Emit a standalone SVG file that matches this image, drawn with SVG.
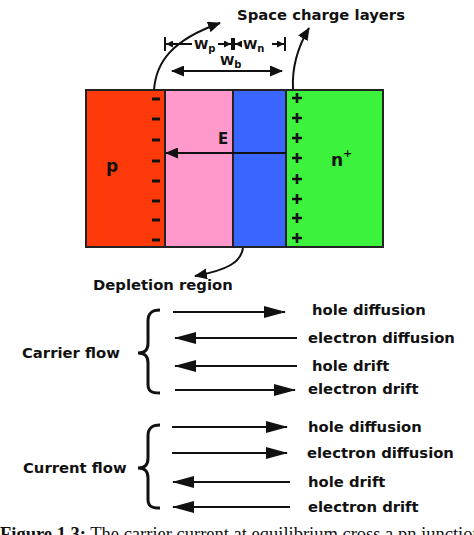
<svg xmlns="http://www.w3.org/2000/svg" width="474" height="535" viewBox="0 0 474 535">
<style>
.t{font-family:"DejaVu Sans",Verdana,sans-serif;font-weight:bold;font-size:14.8px;fill:#111}
.ln{stroke:#111;stroke-width:2;fill:none}
.bd{stroke:#222;stroke-width:2}
.mk{fill:#111}
</style>
<defs>
<marker id="ah" markerUnits="userSpaceOnUse" viewBox="0 0 22 12" refX="21" refY="6" markerWidth="22" markerHeight="12" orient="auto"><path d="M0,0 L22,6 L0,12 z" fill="#111"/></marker>
<marker id="am" markerUnits="userSpaceOnUse" viewBox="0 0 13 11" refX="12" refY="5.5" markerWidth="13" markerHeight="11" orient="auto"><path d="M0,0 L13,5.5 L0,11 z" fill="#111"/></marker>
<marker id="amS" markerUnits="userSpaceOnUse" viewBox="0 0 13 11" refX="1" refY="5.5" markerWidth="13" markerHeight="11" orient="auto"><path d="M13,0 L0,5.5 L13,11 z" fill="#111"/></marker>
<marker id="as" markerUnits="userSpaceOnUse" viewBox="0 0 7 7" refX="7" refY="3.5" markerWidth="7" markerHeight="7" orient="auto"><path d="M0,0 L7,3.5 L0,7 z" fill="#111"/></marker>
</defs>

<g id="junction">
  <rect x="86" y="90" width="79" height="157" fill="#FF3A0A"/>
  <rect x="165" y="90" width="68" height="157" fill="#FF99CC"/>
  <rect x="233" y="90" width="53" height="157" fill="#3A66FF"/>
  <rect x="286" y="90" width="97" height="157" fill="#3CF23C"/>
  <rect x="86" y="90" width="297" height="157" fill="none" stroke="#222" stroke-width="2"/>
  <line class="bd" x1="165" y1="90" x2="165" y2="247"/>
  <line class="bd" x1="233" y1="90" x2="233" y2="247"/>
  <line class="bd" x1="286" y1="90" x2="286" y2="247"/>
</g>

<g id="charges-neg">
  <rect class="mk" x="152" y="97.5" width="8" height="3"/>
  <rect class="mk" x="152" y="117.5" width="8" height="3"/>
  <rect class="mk" x="152" y="138.5" width="8" height="3"/>
  <rect class="mk" x="152" y="159.5" width="8" height="3"/>
  <rect class="mk" x="152" y="179.5" width="8" height="3"/>
  <rect class="mk" x="152" y="199.5" width="8" height="3"/>
  <rect class="mk" x="152" y="218.5" width="8" height="3"/>
  <rect class="mk" x="152" y="238.5" width="8" height="3"/>
</g>
<g id="charges-pos" stroke="#111" stroke-width="2.6">
  <path d="M292,98h10M297,93v10"/>
  <path d="M292,118h10M297,113v10"/>
  <path d="M292,138h10M297,133v10"/>
  <path d="M292,158h10M297,153v10"/>
  <path d="M292,179h10M297,174v10"/>
  <path d="M292,199h10M297,194v10"/>
  <path d="M292,218h10M297,213v10"/>
  <path d="M292,238h10M297,233v10"/>
</g>

<g id="labels-regions">
  <text class="t" x="106" y="172" style="font-size:17px">p</text>
  <text class="t" x="331" y="166" style="font-size:17px">n</text>
  <text class="t" x="343" y="157" style="font-size:11px">+</text>
  <text class="t" x="218" y="144" style="font-size:15px">E</text>
</g>

<g id="connectors">
  <line class="ln" x1="286" y1="153" x2="166" y2="153" marker-end="url(#am)"/>
  <path class="ln" d="M154,90 C156,62 172,40 220,23" marker-end="url(#am)"/>
  <path class="ln" d="M293,89 C292,70 296,50 309,28" marker-end="url(#am)"/>
  <path class="ln" d="M243,248 C241,262 228,270 195,276" marker-end="url(#am)"/>
  <g stroke="#111" stroke-width="2">
    <line x1="165" y1="37" x2="165" y2="51"/>
    <line x1="232" y1="38" x2="232" y2="50"/>
    <line x1="234" y1="38" x2="234" y2="50"/>
    <line x1="285" y1="37" x2="285" y2="51"/>
  </g>
  <line class="ln" x1="192" y1="44" x2="166" y2="44" marker-end="url(#as)"/>
  <line class="ln" x1="218" y1="44" x2="231" y2="44" marker-end="url(#as)"/>
  <line class="ln" x1="241" y1="44" x2="235" y2="44" marker-end="url(#as)"/>
  <line class="ln" x1="272" y1="44" x2="284" y2="44" marker-end="url(#as)"/>
  <line class="ln" x1="172" y1="71" x2="282" y2="71" stroke-width="2.4" marker-start="url(#amS)" marker-end="url(#am)"/>
</g>

<g id="dim-labels">
  <text class="t" x="194" y="49" style="font-size:13px">W<tspan dy="3" style="font-size:10px">p</tspan></text>
  <text class="t" x="243" y="49" style="font-size:13px">W<tspan dy="3" style="font-size:10px">n</tspan></text>
  <text class="t" x="220" y="65" style="font-size:13px">W<tspan dy="3" style="font-size:10px">b</tspan></text>
  <text class="t" x="237" y="20">Space charge layers</text>
  <text class="t" x="93" y="290">Depletion region</text>
</g>

<g id="carrier-flow">
  <text class="t" x="22" y="358">Carrier flow</text>
  <path d="M160,310 C151,310 148,314 148,321 L148,343 C148,350 145,353 138,353 C145,353 148,356 148,363 L148,384 C148,391 151,393 160,393" fill="none" stroke="#111" stroke-width="3"/>
  <line class="ln" x1="173" y1="312" x2="285" y2="312" marker-end="url(#ah)"/>
  <line class="ln" x1="297" y1="338" x2="175" y2="338" marker-end="url(#ah)"/>
  <line class="ln" x1="297" y1="366" x2="175" y2="366" marker-end="url(#ah)"/>
  <line class="ln" x1="175" y1="390" x2="295" y2="390" marker-end="url(#ah)"/>
  <text class="t" x="312" y="315">hole diffusion</text>
  <text class="t" x="308" y="343">electron diffusion</text>
  <text class="t" x="312" y="371">hole drift</text>
  <text class="t" x="308" y="394">electron drift</text>
</g>

<g id="current-flow">
  <text class="t" x="23" y="473">Current flow</text>
  <path d="M160,425 C151,425 148,429 148,436 L148,458 C148,465 145,468 138,468 C145,468 148,471 148,478 L148,499 C148,506 151,508 160,508" fill="none" stroke="#111" stroke-width="3"/>
  <line class="ln" x1="172" y1="427" x2="287" y2="427" marker-end="url(#ah)"/>
  <line class="ln" x1="172" y1="453" x2="287" y2="453" marker-end="url(#ah)"/>
  <line class="ln" x1="290" y1="482" x2="173" y2="482" marker-end="url(#ah)"/>
  <line class="ln" x1="290" y1="507" x2="173" y2="507" marker-end="url(#ah)"/>
  <text class="t" x="308" y="432">hole diffusion</text>
  <text class="t" x="307" y="458">electron diffusion</text>
  <text class="t" x="308" y="487">hole drift</text>
  <text class="t" x="308" y="512">electron drift</text>
</g>

<text id="caption" x="0" y="540" style="font-family:'Liberation Serif','Times New Roman',serif;font-size:18.5px;fill:#111"><tspan font-weight="bold">Figure 1.3:</tspan> The carrier current at equilibrium cross a pn junction</text>
</svg>
